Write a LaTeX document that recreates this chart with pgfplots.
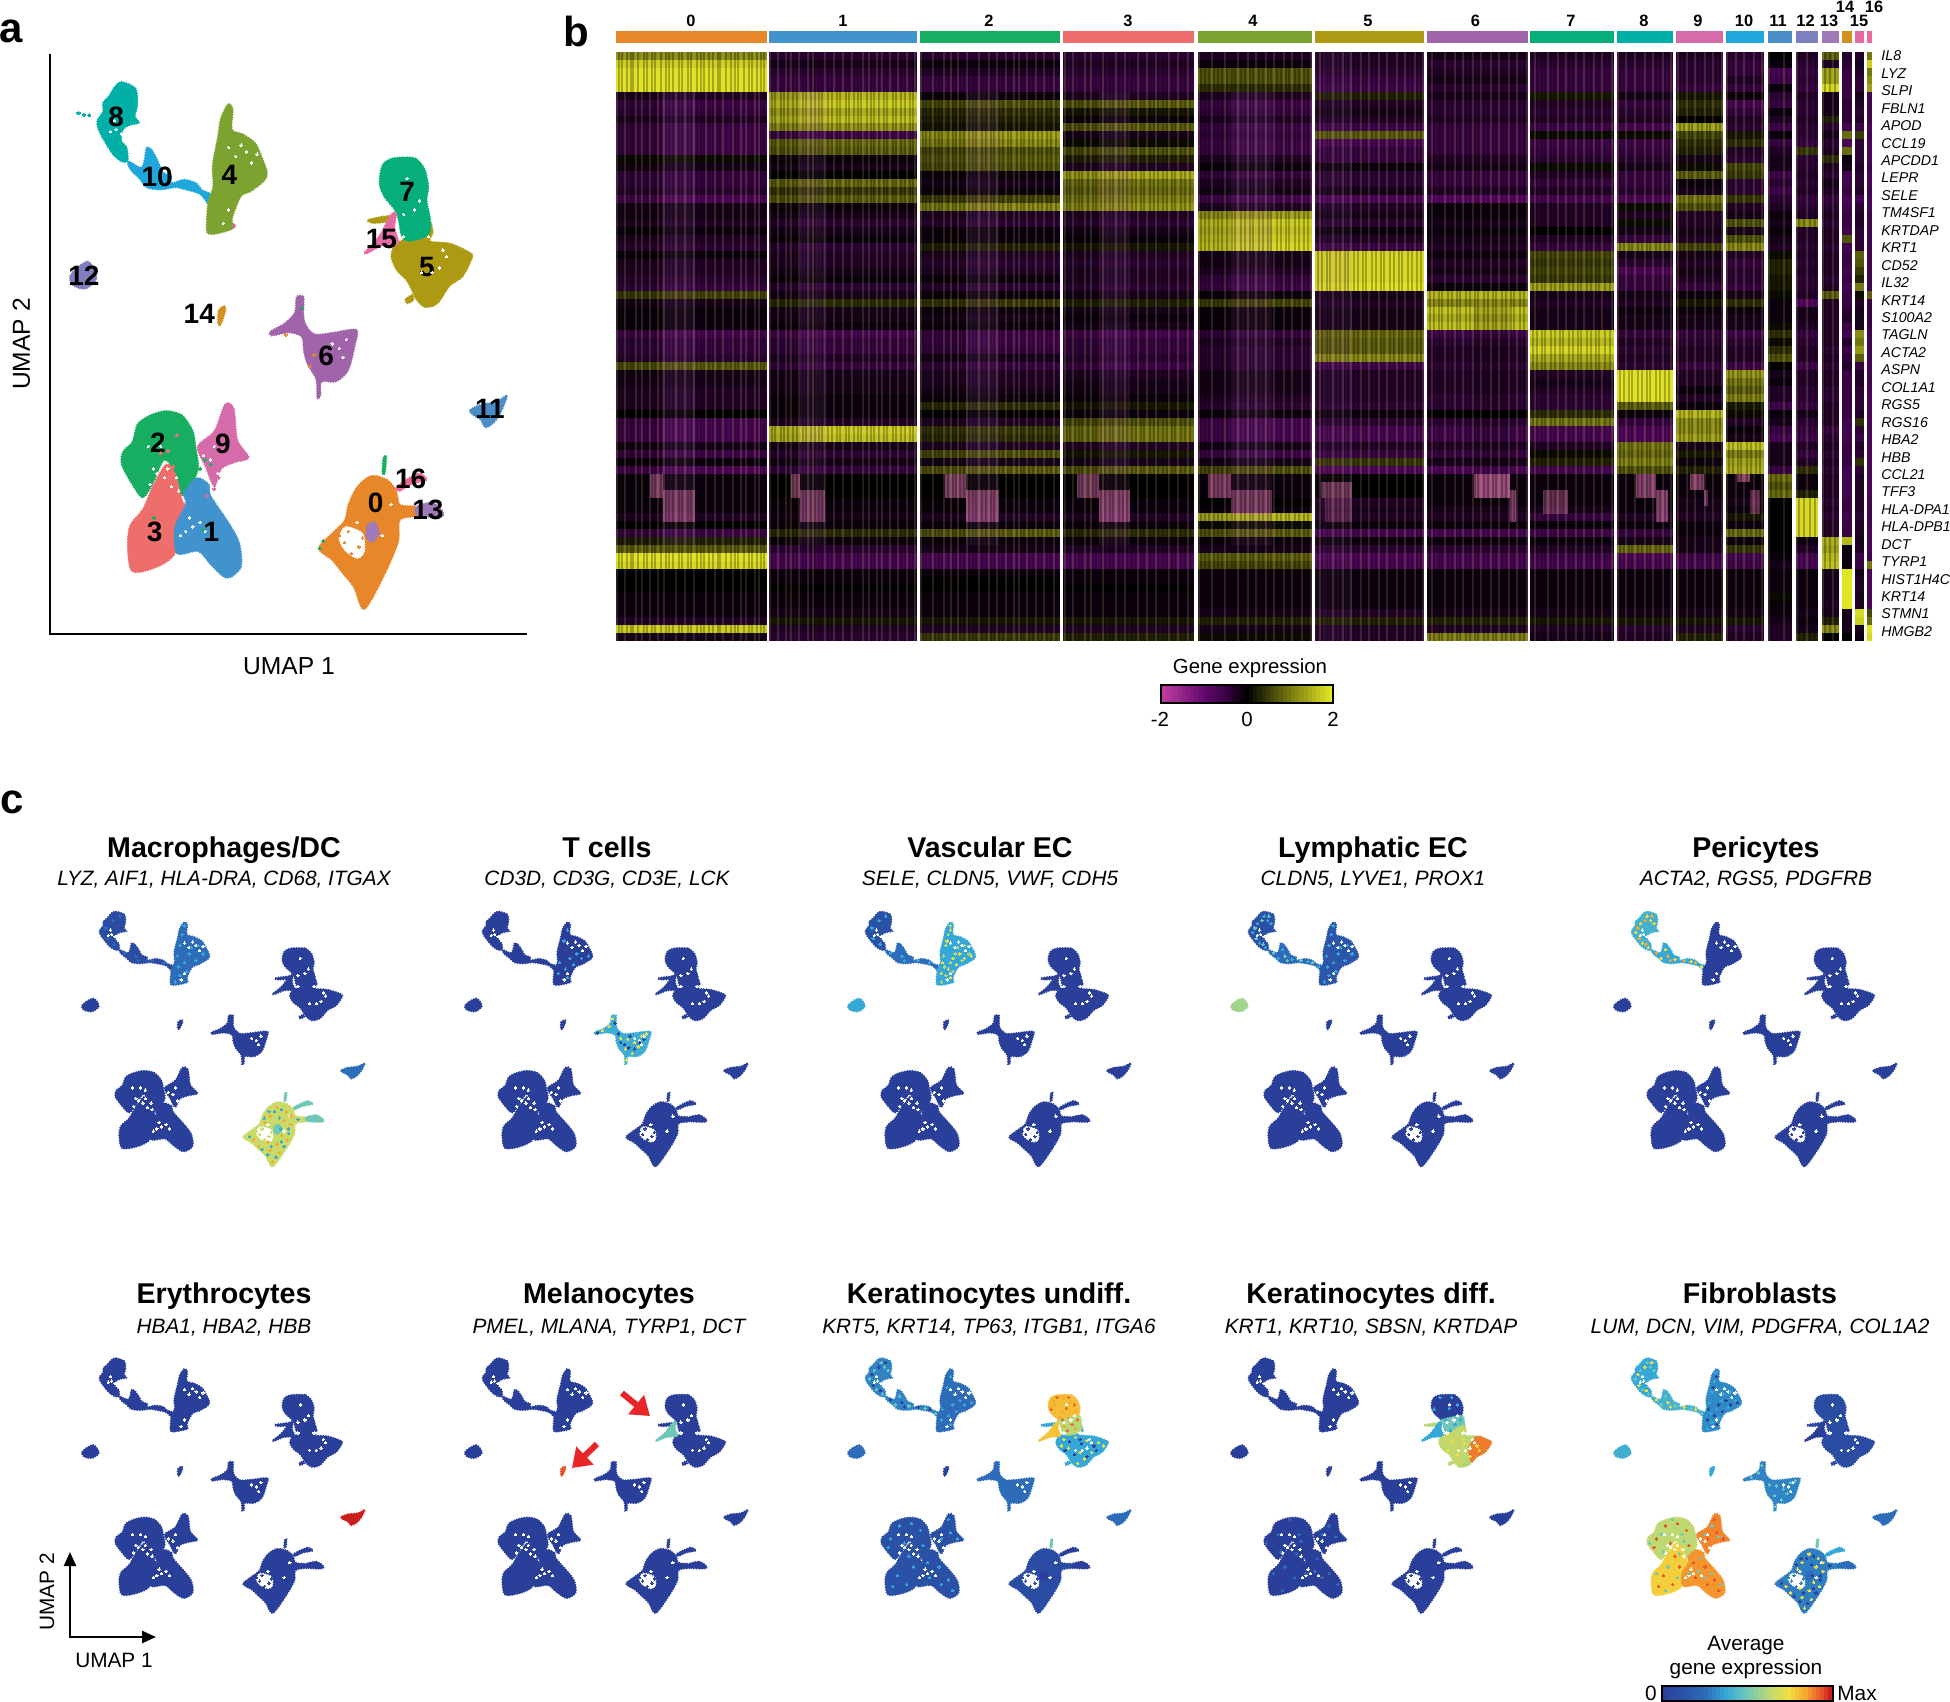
\documentclass[border=0pt]{standalone}
\usepackage{fontspec}
\setmainfont{Liberation Sans}
\usepackage{pgfplots}
\usepackage{pgfplotstable}
\pgfplotsset{compat=1.18}
\usetikzlibrary{arrows.meta}
\definecolor{nv}{HTML}{2A3F9A}
\definecolor{kO}{HTML}{E8862A}\definecolor{kA}{HTML}{4193CE}\definecolor{kB}{HTML}{17AE62}\definecolor{kC}{HTML}{EE6E6C}
\definecolor{kD}{HTML}{7CA32F}\definecolor{kE}{HTML}{AD9A12}\definecolor{kF}{HTML}{A163A9}\definecolor{kG}{HTML}{08AE7A}
\definecolor{kH}{HTML}{00AFA6}\definecolor{kI}{HTML}{D56BA9}\definecolor{kJ}{HTML}{1FA6DC}\definecolor{kK}{HTML}{4A8DC9}
\definecolor{kL}{HTML}{7F7FBF}\definecolor{kM}{HTML}{A07AB8}\definecolor{kN}{HTML}{D19020}\definecolor{kP}{HTML}{E56BA5}\definecolor{kQ}{HTML}{EE6A9D}
\definecolor{jB}{HTML}{2C6CB8}\definecolor{jC}{HTML}{35A8D8}\definecolor{jD}{HTML}{6FC7B8}\definecolor{jE}{HTML}{B8D878}
\definecolor{jF}{HTML}{F2E040}\definecolor{jG}{HTML}{F7A62E}\definecolor{jH}{HTML}{E8502A}\definecolor{jI}{HTML}{C9201F}
\pgfplotsset{
 colormap={hm}{rgb255(0cm)=(190,60,160); rgb255(10cm)=(98,8,108); rgb255(15cm)=(56,4,68); rgb255(20cm)=(0,0,0); rgb255(30cm)=(115,118,15); rgb255(40cm)=(226,229,36)},
 colormap={jt}{rgb255(0cm)=(42,63,154); rgb255(10cm)=(44,108,184); rgb255(15cm)=(53,168,216); rgb255(20cm)=(111,199,184); rgb255(25cm)=(184,216,120); rgb255(30cm)=(242,224,64); rgb255(34cm)=(247,166,46); rgb255(38cm)=(232,80,42); rgb255(40cm)=(201,32,31)},
 umapax/.style={hide axis, scale only axis, xmin=140, xmax=1475, ymin=120, ymax=1420, y dir=reverse, clip=false, anchor=north west},
 hmax/.style={hide axis, scale only axis, width=628.2pt, height=294.5pt, at={(307.8pt,-26pt)}, anchor=north west, xmin=615.6, xmax=1872, ymin=0, ymax=74, y dir=reverse, clip=false},
 cell/.style={scatter, only marks, mark=cell, scatter src=explicit, scatter/use mapped color={fill=mapped color, draw=none}},
}
\pgfdeclareplotmark{cell}{\pgfpathrectangle{\pgfpoint{-0.5pt}{-2.08pt}}{\pgfpoint{1pt}{4.16pt}}\pgfusepathqfill}
% ---------------- heatmap values (z-score x 10), one row per gene, one column per cluster
\pgfplotstableread{
c0 c1 c2 c3 c4 c5 c6 c7 c8 c9 c10 c11 c12 c13 c14 c15 c16
12 -4 -4 -4 -3 -3 -2 -3 -3 -3 -4 0 -3 8 -3 -3 10
18 -2 -1 -3 -1 -3 -4 -4 -4 -4 -5 -1 -4 -3 -4 -2 18
20 -4 -3 -4 7 -4 -3 -5 -5 -4 -5 -7 -5 14 -5 -3 10
20 -5 -5 -5 7 -5 -2 -5 -5 -4 -3 -6 -4 14 -5 -4 12
20 -5 -5 -5 4 -6 -4 -5 -5 -5 -5 -1 -5 19 -5 -4 14
-3 16 -1 -3 -3 3 -2 2 -2 2 -1 -4 -3 -2 -5 -2 -6
-6 18 7 8 -6 -3 -4 -3 -5 4 -7 -5 -4 -2 -4 -3 -6
-5 15 4 2 -5 -2 -4 -4 -4 3 -5 -1 -4 -2 -4 -4 -6
-3 17 3 -1 -3 -3 -3 -3 -3 0 -3 -3 -3 3 -4 -3 -6
-6 13 2 8 -6 -6 -5 -6 -7 14 -4 -6 -4 -4 -6 -5 -7
-6 -6 14 -2 -5 8 -5 1 1 6 2 -1 -4 -2 9 5 -6
-6 9 12 1 -6 -7 -5 -6 -6 4 4 -5 -5 -4 -7 -4 -7
-6 8 7 7 -6 -5 -5 -5 -5 3 -3 -3 5 -3 9 -4 -7
1 -1 8 3 -3 -5 -3 -4 -4 -2 -4 -2 -4 4 -1 -4 -7
-2 -2 7 -3 -1 -1 -2 1 -2 1 6 -2 -4 -3 -2 -3 -6
-5 0 -1 15 -5 -4 -5 -3 -5 8 5 -6 -3 -4 -6 -4 -7
-5 9 -2 10 -3 -4 -5 -5 -5 -1 -4 -4 -4 -2 -6 -4 -7
-4 5 -1 9 -2 -2 -3 -3 -4 -2 -4 -6 -3 -3 -5 -3 -6
-8 8 6 11 -7 -8 -9 -7 -8 10 5 -4 -5 -5 -7 -6 -7
-2 -1 12 13 -3 -3 -1 -3 1 7 -3 -3 -4 -4 -6 -4 -7
-2 -2 -3 -3 14 -2 -1 -3 -3 -3 -2 -1 -3 -3 -5 -3 -6
-3 -4 -4 -4 18 -4 -2 -3 1 -3 7 -2 12 -4 -5 -3 -6
-1 -2 -1 -2 17 -1 -1 0 -2 -2 -2 -1 -3 -3 -6 -4 -6
-3 -1 -1 -1 18 -3 -2 -3 -5 -3 7 -2 -3 -3 7 -4 -6
-4 -4 3 2 19 -6 -3 -5 12 6 12 -3 -4 -4 -6 -4 -6
-1 -3 -3 -3 -2 19 -1 6 -2 -2 -3 1 -3 -3 -5 8 -6
-3 -3 -4 -4 -2 19 -3 5 -4 -3 -5 3 -4 -3 -5 7 -6
-3 -2 -3 -3 -3 19 -2 6 -8 -2 -4 3 -3 -3 -6 5 -6
-4 -1 -1 -3 -5 19 -4 5 -5 -3 -4 2 -4 -4 -5 3 -6
-5 -4 -4 -4 -6 20 -1 14 -5 -5 -5 2 -4 -3 -6 10 -6
6 -2 -1 -2 -1 -2 16 -2 -2 -1 -2 1 -3 8 -5 1 8
-2 4 5 3 6 -3 12 -3 -3 2 4 -1 -8 -3 -5 -3 -5
-1 -2 -1 -2 -1 -2 17 -2 -1 -1 -1 -1 -2 -3 -4 -2 -5
-1 -2 -2 -1 -1 -2 15 -2 -2 -2 -2 -1 -2 -3 -3 -2 -5
-1 -1 -1 -2 -1 -2 17 -2 -2 -2 -2 1 -3 -3 -5 -2 -5
-7 -7 -6 -7 -5 9 -6 18 -5 -5 -6 4 -5 -3 -6 12 -6
-5 -5 -6 -5 -3 8 -4 16 -3 -4 -4 1 -4 -3 -3 10 -6
-5 -5 -5 -5 -4 8 -3 19 -4 -3 -3 4 -3 -4 -5 13 -6
-4 -3 -2 -4 -4 12 -3 15 -3 -3 -3 7 -3 -3 -4 8 -6
8 -5 -5 -6 -4 -6 -4 12 -4 -5 -6 0 -6 -4 -3 -5 -7
-2 -2 -3 -3 -2 -3 -3 -3 20 -3 13 -2 -3 -3 -5 -3 -6
-2 -2 -3 -2 -2 -3 -3 -2 20 -3 10 -1 -3 -3 -5 -3 -6
-3 -2 -2 -2 -2 -3 -3 -3 20 -1 8 -3 -4 -4 -5 -4 -7
-3 -1 -1 -1 -3 -3 -4 -4 20 -3 11 -3 -4 -4 -5 -4 -7
-3 -1 4 2 -4 -4 -4 -4 8 -1 2 -6 -5 -3 -5 -4 -7
0 -1 0 -1 -1 -1 0 4 -1 16 1 -1 -2 -3 -5 -3 -7
-7 -3 -3 7 -7 -4 -4 10 -5 12 -3 -2 -4 -3 -6 4 -7
-7 18 5 10 -7 -7 -6 -7 -8 12 -1 -5 -5 -5 -6 -4 -7
-7 17 4 10 -7 -7 -6 -7 -8 14 -2 -7 -6 -4 -6 -5 -7
-2 -2 -3 -3 -2 -3 -3 -3 10 -2 17 -2 -3 -3 -5 -3 -7
-6 -4 7 2 -6 -5 -5 1 9 2 11 -2 -5 -4 -5 -4 -7
-1 -2 -2 -2 -2 5 -2 3 11 -1 14 -2 -3 -3 -5 4 -7
-8 -5 8 8 7 -8 -8 -7 7 3 15 -5 4 -4 -6 -4 -7
-1 0 0 0 -1 0 -1 -1 -1 -1 -1 9 -1 -3 -6 -3 -7
-1 0 0 0 -1 0 -1 -1 -1 -1 -1 7 -1 -3 -6 -3 -7
-1 0 0 0 -1 0 -1 -1 -1 -1 -1 9 3 -3 -6 -3 -7
-1 -1 -1 -1 0 -3 -1 -1 -1 -2 -2 0 19 -4 -5 -3 -6
-1 -1 -1 -1 -1 -2 -2 -2 -1 -2 -1 0 19 -3 -5 -3 -6
-3 -2 -3 -3 16 -3 -3 -5 -3 -3 2 0 19 -4 -6 -4 -6
0 -1 -1 -1 1 -1 -1 -1 -1 -1 -1 0 19 -3 -5 -3 -7
-6 4 8 4 8 -7 -7 -6 -5 -1 9 0 19 -3 -5 -3 -7
3 -1 -1 -1 -1 -1 -1 -1 -2 -2 -1 0 -1 15 16 -2 -7
8 -4 -2 -3 -2 -4 -4 -3 9 -2 5 0 -3 14 -1 -3 -7
20 -7 -7 -7 8 -8 -7 -6 -8 -6 -7 -1 -7 16 -1 -5 -6
19 -7 -7 -7 6 -7 -7 -7 -7 -7 -6 -2 -7 17 -1 -5 10
0 -1 -1 -1 -1 -1 -1 -1 -1 -1 -1 -1 -1 -2 20 -2 -7
0 -1 0 -1 -1 -1 -1 -1 -1 -1 -1 -1 -1 -2 20 -3 -7
0 0 0 0 -1 -1 -1 -1 -1 -1 -1 -1 -1 -2 20 -3 -7
-1 -1 -1 -1 -1 -1 -1 -1 -1 -1 -1 1 -1 -2 20 -2 -7
-1 -1 -1 -1 -1 -1 -1 -1 -1 -1 -1 -1 -1 -3 20 -3 -7
-1 -2 -1 -1 -2 -3 -2 -2 -2 -2 -2 -1 -2 -2 -2 19 6
-3 2 2 2 3 3 3 2 2 2 2 -2 -1 3 -2 18 9
18 -3 -3 -3 -2 -3 -3 -3 -4 -3 -4 -3 -2 12 -2 -2 20
-2 -4 5 3 1 -3 11 -2 -3 3 -3 -3 3 0 0 -1 19
}\heat
% vertical cell stripes
\pgfplotstableread[row sep=\\]{x\\619\\622\\627\\631\\633\\638\\644\\647\\652\\655\\661\\666\\669\\673\\679\\682\\688\\691\\697\\701\\704\\709\\713\\718\\720\\726\\731\\735\\738\\744\\749\\752\\757\\761\\764\\772\\775\\781\\784\\788\\793\\797\\803\\806\\811\\815\\819\\822\\828\\832\\837\\840\\846\\849\\854\\858\\861\\867\\871\\874\\879\\884\\887\\893\\896\\901\\905\\910\\913\\923\\926\\930\\935\\939\\942\\948\\953\\956\\960\\964\\969\\973\\976\\982\\986\\991\\994\\999\\1003\\1008\\1011\\1017\\1021\\1024\\1029\\1033\\1038\\1042\\1047\\1051\\1056\\1067\\1070\\1075\\1079\\1082\\1088\\1093\\1096\\1101\\1105\\1110\\1113\\1119\\1123\\1127\\1132\\1136\\1141\\1144\\1150\\1154\\1158\\1163\\1167\\1172\\1175\\1181\\1185\\1190\\1201\\1205\\1209\\1214\\1218\\1222\\1227\\1232\\1235\\1241\\1245\\1250\\1253\\1259\\1263\\1268\\1271\\1277\\1281\\1286\\1289\\1295\\1299\\1304\\1308\\1318\\1322\\1327\\1330\\1336\\1340\\1345\\1348\\1354\\1358\\1363\\1366\\1372\\1376\\1381\\1384\\1390\\1394\\1399\\1402\\1408\\1412\\1417\\1421\\1430\\1434\\1439\\1442\\1448\\1452\\1457\\1460\\1466\\1470\\1475\\1478\\1484\\1488\\1493\\1496\\1502\\1506\\1511\\1514\\1520\\1524\\1533\\1537\\1542\\1545\\1551\\1555\\1560\\1563\\1569\\1573\\1578\\1581\\1587\\1591\\1596\\1599\\1605\\1610\\1620\\1624\\1629\\1632\\1638\\1642\\1647\\1650\\1656\\1660\\1665\\1669\\1680\\1684\\1689\\1692\\1698\\1702\\1707\\1710\\1716\\1720\\1729\\1733\\1738\\1741\\1747\\1751\\1756\\1760\\1771\\1776\\1781\\1787\\1799\\1804\\1810\\1815\\1825\\1830\\1835\\}\stripD
\pgfplotstableread[row sep=\\]{x\\617\\625\\636\\642\\650\\658\\664\\676\\685\\694\\706\\715\\723\\733\\741\\746\\755\\759\\770\\778\\786\\791\\799\\808\\813\\825\\834\\843\\852\\863\\869\\877\\882\\890\\898\\907\\915\\921\\933\\944\\951\\958\\967\\979\\989\\997\\1006\\1014\\1019\\1027\\1036\\1044\\1054\\1065\\1073\\1085\\1091\\1103\\1116\\1125\\1138\\1147\\1156\\1169\\1178\\1188\\1199\\1212\\1225\\1238\\1248\\1256\\1266\\1274\\1284\\1292\\1302\\1311\\1320\\1333\\1343\\1351\\1361\\1369\\1379\\1387\\1397\\1405\\1415\\1423\\1432\\1445\\1455\\1463\\1473\\1481\\1491\\1499\\1509\\1517\\1527\\1535\\1548\\1558\\1566\\1576\\1584\\1594\\1602\\1612\\1618\\1626\\1635\\1645\\1653\\1663\\1671\\1678\\1687\\1695\\1705\\1713\\1722\\1727\\1736\\1744\\1754\\1762\\1769\\1784\\1797\\1807\\1823\\1833\\}\stripL
% ---------------- UMAP outlines
\pgfplotstableread[row sep=\\]{x y\\1040 1065\\1085 1075\\1110 1100\\1120 1130\\1165 1135\\1170 1155\\1120 1165\\1115 1215\\1075 1290\\1020 1365\\990 1315\\960 1285\\930 1255\\892 1228\\935 1190\\965 1165\\975 1130\\1000 1090\\}\UMa
\pgfplotstableread[row sep=\\]{x y\\550 1070\\585 1085\\590 1110\\640 1170\\670 1215\\675 1270\\635 1295\\590 1265\\555 1235\\495 1240\\490 1180\\520 1130\\515 1105\\}\UMb
\pgfplotstableread[row sep=\\]{x y\\465 920\\510 930\\540 965\\548 1000\\555 1050\\530 1095\\510 1110\\490 1060\\460 1030\\430 1080\\400 1115\\370 1085\\340 1040\\345 1010\\370 990\\385 950\\420 930\\}\UMc
\pgfplotstableread[row sep=\\]{x y\\465 1040\\490 1060\\510 1120\\520 1135\\495 1180\\490 1240\\440 1270\\370 1280\\357 1220\\365 1175\\400 1140\\430 1085\\}\UMd
\pgfplotstableread[row sep=\\]{x y\\638 233\\652 245\\650 290\\680 300\\715 320\\730 345\\748 385\\740 405\\700 430\\675 440\\650 490\\655 510\\625 520\\590 525\\578 515\\582 455\\590 435\\597 415\\595 370\\610 305\\618 265\\}\UMe
\pgfplotstableread[row sep=\\]{x y\\1200 495\\1212 520\\1205 540\\1260 545\\1315 565\\1322 578\\1295 620\\1260 640\\1225 680\\1190 688\\1165 670\\1140 630\\1110 605\\1095 575\\1105 550\\1140 530\\}\UMf
\pgfplotstableread[row sep=\\]{x y\\830 665\\850 665\\850 700\\855 725\\880 748\\930 745\\998 738\\995 770\\975 830\\940 855\\900 855\\898 885\\888 892\\885 850\\860 815\\850 785\\845 755\\810 745\\760 752\\757 742\\795 725\\825 700\\}\UMg
\pgfplotstableread[row sep=\\]{x y\\1130 352\\1165 355\\1190 380\\1200 420\\1195 450\\1205 490\\1200 525\\1150 540\\1125 530\\1115 490\\1105 470\\1075 440\\1062 410\\1070 370\\1095 355\\}\UMh
\pgfplotstableread[row sep=\\]{x y\\340 183\\380 198\\385 235\\378 260\\390 275\\365 280\\345 290\\340 315\\355 330\\358 360\\340 362\\315 345\\295 320\\275 290\\272 270\\288 250\\288 230\\305 215\\320 195\\}\UMi
\pgfplotstableread[row sep=\\]{x y\\630 905\\655 915\\665 985\\697 1025\\660 1035\\620 1050\\600 1090\\575 1045\\553 1000\\600 965\\}\UMj
\pgfplotstableread[row sep=\\]{x y\\358 360\\395 375\\405 355\\410 330\\425 335\\445 365\\455 385\\480 395\\480 410\\515 402\\550 410\\565 425\\590 435\\585 458\\560 435\\520 425\\490 420\\450 425\\410 420\\390 400\\365 380\\}\UMk
\pgfplotstableread[row sep=\\]{x y\\1315 918\\1350 905\\1390 900\\1420 885\\1405 920\\1385 945\\1360 958\\1345 940\\1325 930\\}\UMl
\pgfplotstableread[row sep=\\]{x y\\195 620\\215 600\\245 585\\262 600\\270 625\\240 647\\205 640\\}\UMm
\pgfplotstableread[row sep=\\]{x y\\1165 1135\\1210 1125\\1240 1145\\1235 1158\\1170 1155\\}\UMn
\pgfplotstableread[row sep=\\]{x y\\610 725\\612 695\\628 685\\632 695\\618 728\\}\UMo
\pgfplotstableread[row sep=\\]{x y\\1020 565\\1060 530\\1095 480\\1110 478\\1105 510\\1115 545\\1070 550\\1030 567\\}\UMp
\pgfplotstableread[row sep=\\]{x y\\1110 1090\\1170 1060\\1195 1075\\1150 1085\\1120 1100\\}\UMq
\pgfplotstableread[row sep=\\]{x y\\1030 1175\\1050 1170\\1062 1195\\1040 1215\\1025 1200\\}\UMz
\pgfplotstableread[row sep=\\]{x y\\950 1205\\968 1180\\1015 1195\\1020 1235\\1000 1250\\965 1232\\}\UMy
\pgfplotstableread[row sep=\\]{x y\\1135 670\\1155 660\\1158 672\\1140 680\\}\UMx
\pgfplotstableread[row sep=\\]{x y\\1030 492\\1090 483\\1095 495\\1045 500\\}\UMw
\pgfplotstableread[row sep=\\]{x y\\1073 1025\\1082 1022\\1078 1060\\1070 1060\\}\UMv
\pgfplotstableread[row sep=\\]{x y\\1260 545\\1315 565\\1322 578\\1295 620\\1260 640\\1235 665\\1225 600\\}\PFr
\pgfplotstableread[row sep=\\]{x y\\1105 470\\1195 450\\1205 490\\1200 525\\1150 540\\1125 530\\1115 490\\}\PGl
\pgfplotstableread[row sep=\\]{x y\\1140 530\\1200 495\\1212 520\\1205 540\\1200 600\\1190 688\\1165 670\\1140 630\\1110 605\\1095 575\\1105 550\\}\PFl
% ---------------- loose points and specks
\pgfplotstableread[row sep=\\]{x y\\950 1200\\975 1190\\1005 1225\\985 1240\\1015 1205\\965 1215\\}\SH
\pgfplotstableread[row sep=\\]{x y\\690 340\\705 365\\660 350\\720 345\\675 325\\640 330\\1140 400\\1160 470\\1130 480\\1175 450\\1250 575\\1230 600\\1210 610\\1240 560\\1180 610\\325 290\\310 295\\340 300\\320 270\\950 780\\960 800\\930 770\\970 760\\470 1050\\460 1070\\480 1090\\440 1060\\500 1100\\430 1050\\420 1085\\495 1070\\540 1180\\520 1190\\560 1170\\530 1160\\505 1200\\575 1190\\470 1010\\450 1000\\415 1000\\600 1000\\590 1030\\570 1020\\610 1060\\1000 1170\\1070 1200\\1010 1240\\1095 1130\\640 470\\625 500\\1200 530\\1130 530\\}\SW
\pgfplotstableread[row sep=\\]{x y\\1040 1090\\1080 1110\\1010 1130\\990 1160\\1070 1150\\1100 1170\\1060 1220\\1085 1240\\1040 1260\\1010 1290\\1050 1300\\1020 1340\\1000 1250\\960 1270\\940 1240\\1100 1130\\}\SOa
\pgfplotstableread[row sep=\\]{x y\\1030 1110\\1060 1100\\1005 1110\\985 1140\\1050 1140\\1090 1190\\1070 1270\\1035 1320\\1000 1310\\975 1285\\920 1225\\1090 1210\\1055 1190\\1015 1270\\1130 1145\\1060 1250\\}\SOb
\pgfplotstableread[row sep=\\]{x y\\835 680\\820 715\\790 735\\870 770\\900 775\\930 790\\960 760\\980 750\\890 820\\920 840\\945 810\\895 870\\}\SGa
\pgfplotstableread[row sep=\\]{x y\\845 700\\770 745\\860 750\\885 800\\910 760\\950 790\\970 775\\905 815\\930 820\\870 790\\}\SGb
\pgfplotstableread[row sep=\\]{x y\\638 250\\630 290\\620 340\\610 390\\640 420\\670 350\\700 340\\720 380\\690 410\\650 460\\620 480\\600 510\\615 440\\660 380\\}\SDa
\pgfplotstableread[row sep=\\]{x y\\640 270\\625 320\\605 420\\650 400\\680 380\\700 400\\730 390\\640 490\\600 470\\630 450\\665 430\\}\SDb
\pgfplotstableread[row sep=\\]{x y\\340 205\\370 240\\310 240\\290 280\\320 330\\345 350\\420 360\\400 400\\460 405\\530 415\\575 440\\355 225\\}\SIa
\pgfplotstableread[row sep=\\]{x y\\360 205\\330 225\\300 260\\305 310\\335 335\\380 375\\430 390\\440 410\\500 410\\550 420\\}\SIb
\pgfplotstableread[row sep=\\]{x y\\1130 370\\1090 400\\1160 390\\1120 430\\1180 430\\1150 460\\1130 500\\1180 510\\1085 380\\1110 460\\}\SHa
\pgfplotstableread[row sep=\\]{x y\\1100 365\\1150 365\\1075 420\\1140 415\\1175 400\\1125 470\\1165 490\\1145 520\\1190 470\\}\SHb
\pgfplotstableread[row sep=\\]{x y\\1130 560\\1180 550\\1230 565\\1280 575\\1300 590\\1150 600\\1200 620\\1250 620\\1190 670\\1220 650\\1120 590\\}\SFa
\pgfplotstableread[row sep=\\]{x y\\1155 570\\1205 580\\1260 590\\1175 630\\1230 640\\1270 610\\1200 560\\1135 610\\}\SFb
\pgfplotstableread[row sep=\\]{x y\\420 960\\470 950\\510 980\\380 1020\\440 1040\\370 1060\\520 1050\\630 930\\640 990\\600 1020\\670 1020\\460 1100\\410 1190\\390 1240\\450 1230\\480 1150\\540 1130\\590 1150\\630 1210\\650 1260\\550 1200\\600 1230\\}\SBa
\pgfplotstableread[row sep=\\]{x y\\450 930\\490 1000\\400 1000\\350 1040\\500 1030\\410 1080\\620 960\\590 1000\\650 1010\\480 1090\\380 1180\\430 1150\\470 1200\\420 1260\\520 1180\\570 1110\\620 1180\\660 1230\\590 1200\\560 1170\\}\SBb
\pgfplotstableread[row sep=\\]{x\\-20\\-19\\-18\\-17\\-16\\-15\\-14\\-13\\-12\\-11\\-10\\-9\\-8\\-7\\-6\\-5\\-4\\-3\\-2\\-1\\0\\1\\2\\3\\4\\5\\6\\7\\8\\9\\10\\11\\12\\13\\14\\15\\16\\17\\18\\19\\20\\}\barH
\pgfplotstableread[row sep=\\]{x\\0\\1\\2\\3\\4\\5\\6\\7\\8\\9\\10\\11\\12\\13\\14\\15\\16\\17\\18\\19\\20\\21\\22\\23\\24\\25\\26\\27\\28\\29\\30\\31\\32\\33\\34\\35\\36\\37\\38\\39\\40\\}\barJ
% ---------------- helpers
\newcommand\blob[2]{\addplot[fill=#1, draw=#1, line width=.9pt, dash pattern=on 0pt off 1.3pt, line cap=round, no markers, smooth cycle, tension=.5] table {#2};}
\newcommand\spk[2]{\addplot[only marks, mark=*, mark size=.6pt, color=#1, line width=0pt] table {#2};}
\newcommand\ures{\colorlet{ua}{nv}\colorlet{ub}{nv}\colorlet{uc}{nv}\colorlet{ud}{nv}\colorlet{ue}{nv}\colorlet{uf}{nv}\colorlet{ug}{nv}\colorlet{uh}{nv}\colorlet{ui}{nv}\colorlet{uj}{nv}\colorlet{uk}{nv}\colorlet{ul}{nv}\colorlet{um}{nv}\colorlet{un}{nv}\colorlet{uo}{nv}\colorlet{up}{nv}\colorlet{uq}{nv}\colorlet{uv}{nv}}
\newcommand\ubase{%
 \blob{ui}{\UMi}\blob{uk}{\UMk}\blob{ue}{\UMe}\blob{uf}{\UMf}\blob{uf}{\UMx}\blob{uf}{\UMw}\blob{uh}{\UMh}\blob{up}{\UMp}
 \blob{um}{\UMm}\blob{uo}{\UMo}\blob{ug}{\UMg}\blob{ul}{\UMl}\blob{uc}{\UMc}\blob{uj}{\UMj}\blob{ud}{\UMd}\blob{ub}{\UMb}
 \blob{ua}{\UMa}\blob{un}{\UMn}\blob{uq}{\UMq}\blob{uv}{\UMv}
 \blob{white}{\UMy}
 \blob{un}{\UMz}
 \spk{ua}{\SH}
 \spk{white}{\SW}}
\newcommand\upanel[4]{\ures #3
 \begin{axis}[umapax, width=154.4pt, height=140.5pt, at={(#1*0.5pt,-#2*0.5pt)}]
 \ubase
 #4
 \end{axis}}
\newcommand\hc[3]{\addplot[cell, mark options={xscale=#3}] table[x expr=#2, y expr=\coordindex+0.5, meta=c#1]{\heat};}
\newcommand\ov[6]{\addplot[fill=#5, fill opacity=#6, draw=none, no markers] coordinates {(#1,#3)(#2,#3)(#2,#4)(#1,#4)} --cycle;}
\newcommand\cb[3]{\addplot[fill=#3, draw=none, no markers] coordinates {(#1,-2.64)(#2,-2.64)(#2,-1.13)(#1,-1.13)} --cycle;}
\newcommand\ttl[5]{\node[anchor=base, font=\fontsize{14.3}{16}\selectfont\bfseries] at (#1,#2+10) {#4};\node[anchor=base, font=\fontsize{10.4}{12}\selectfont\itshape] at (#1,#3+8) {#5};}
\newcommand\lb[3]{\node[font=\fontsize{14}{16}\selectfont\bfseries] at (#1,#2) {#3};}
\begin{document}
\begin{tikzpicture}
\path[use as bounding box] (0,0) rectangle (975pt,-851pt);
% ---- panel a
\colorlet{ua}{kO}\colorlet{ub}{kA}\colorlet{uc}{kB}\colorlet{ud}{kC}\colorlet{ue}{kD}\colorlet{uf}{kE}\colorlet{ug}{kF}\colorlet{uh}{kG}\colorlet{ui}{kH}\colorlet{uj}{kI}\colorlet{uk}{kJ}\colorlet{ul}{kK}\colorlet{um}{kL}\colorlet{un}{kM}\colorlet{uo}{kN}\colorlet{up}{kP}\colorlet{uq}{kQ}\colorlet{uv}{kB}
\begin{axis}[umapax, width=238.4pt, height=290.2pt, at={(25pt,-26.8pt)}]
\ubase
\addplot[only marks, mark=*, mark size=.8pt, color=kH, line width=0pt] coordinates {(220,253)(235,257)(250,258)};
\addplot[only marks, mark=*, mark size=.8pt, color=kB, line width=0pt] coordinates {(575,1030)(590,1040)(560,1050)(540,1060)(510,1080)(430,1160)(568,1185)(905,1212)(895,1228)(845,690)};
\addplot[only marks, mark=*, mark size=.8pt, color=kC, line width=0pt] coordinates {(470,1010)(495,975)(450,1015)(485,1045)};
\addplot[only marks, mark=*, mark size=.8pt, color=kI, line width=0pt] coordinates {(600,1095)(612,1070)(580,1110)(655,505)};
\addplot[only marks, mark=*, mark size=.8pt, color=kO, line width=0pt] coordinates {(880,795)(868,820)(800,750)};
\addplot[black, line width=1.1pt, no markers, line cap=butt] coordinates {(140,120)(140,1420)(1475,1420)};
\lb{325}{262}{8}\lb{440}{395}{10}\lb{642}{392}{4}\lb{1140}{430}{7}\lb{1068}{535}{15}\lb{1195}{597}{5}
\lb{235}{618}{12}\lb{558}{703}{14}\lb{913}{797}{6}\lb{1372}{915}{11}\lb{442}{992}{2}\lb{624}{994}{9}
\lb{1150}{1072}{16}\lb{1052}{1127}{0}\lb{1198}{1143}{13}\lb{433}{1192}{3}\lb{592}{1192}{1}
\end{axis}
% ---- panel b: cells
\begin{axis}[hmax, colormap name=hm, point meta min=-20, point meta max=20]
\hc{0}{691.05}{75.45}\hc{1}{843}{74}\hc{2}{990}{70}\hc{3}{1128.5}{65.5}\hc{4}{1254.8}{57.2}\hc{5}{1369.7}{54.7}\hc{6}{1477.3}{50.3}\hc{7}{1572}{42}
\hc{8}{1645.15}{28.15}\hc{9}{1699.65}{23.35}\hc{10}{1745.1}{19.3}\hc{11}{1780}{12}\hc{12}{1806.8}{11.2}\hc{13}{1830.3}{8.7}\hc{14}{1847}{5}\hc{15}{1859.5}{4.5}\hc{16}{1869.5}{2.5}
\end{axis}
% ---- panel b: blocks and stripes over the cells
\begin{axis}[hmax]
\ov{616}{662}{5}{62}{black}{.2}\ov{662}{695}{5}{62}{kF}{.14}
\ov{769}{800}{5}{62}{black}{.16}\ov{800}{825}{5}{62}{kF}{.14}
\ov{920}{966}{5}{62}{black}{.16}\ov{966}{999}{5}{62}{kF}{.14}
\ov{1063}{1099}{5}{62}{black}{.16}\ov{1099}{1130}{5}{62}{kF}{.14}
\ov{1198}{1231}{5}{62}{black}{.16}\ov{1231}{1272}{5}{62}{kF}{.14}
\ov{1315}{1352}{0}{74}{kF}{.1}\ov{1474}{1510}{32}{53}{black}{.15}
\ov{650}{663}{53}{56}{kI}{.55}\ov{663}{695}{55}{59}{kI}{.5}
\ov{791}{800}{53}{56}{kI}{.55}\ov{800}{825}{55}{59}{kI}{.5}
\ov{945}{966}{53}{56}{kI}{.6}\ov{966}{999}{55}{59}{kI}{.55}
\ov{1077}{1099}{53}{56}{kI}{.55}\ov{1099}{1130}{55}{59}{kI}{.55}
\ov{1208}{1231}{53}{56}{kI}{.55}\ov{1231}{1272}{55}{58}{kI}{.5}
\ov{1321}{1352}{54}{56}{kI}{.5}\ov{1325}{1352}{56}{59}{kI}{.3}
\ov{1474}{1510}{53}{56}{kI}{.7}\ov{1510}{1516}{55}{59}{kI}{.6}
\ov{1543}{1568}{55}{58}{kI}{.45}
\ov{1636}{1656}{53}{56}{kI}{.6}\ov{1656}{1668}{55}{59}{kI}{.6}
\ov{1690}{1704}{53}{55}{kI}{.6}\ov{1704}{1708}{55}{57}{kI}{.5}
\ov{1737}{1750}{53}{54}{kI}{.6}\ov{1750}{1760}{55}{58}{kI}{.45}
\addplot[ycomb, no markers, black, opacity=.26, line width=.55pt] table[x=x, y=x, y expr=74]{\stripD};
\addplot[ycomb, no markers, color={rgb,255:red,225;green,190;blue,120}, opacity=.17, line width=.55pt] table[x=x, y=x, y expr=74]{\stripL};
\cb{615.6}{766.5}{kO}\cb{769}{917}{kA}\cb{920}{1060}{kB}\cb{1063}{1194}{kC}\cb{1197.6}{1312}{kD}\cb{1315}{1424.4}{kE}\cb{1427}{1527.6}{kF}\cb{1530}{1614}{kG}
\cb{1617}{1673.3}{kH}\cb{1676.3}{1723}{kI}\cb{1725.8}{1764.4}{kJ}\cb{1768}{1792}{kK}\cb{1795.6}{1818}{kL}\cb{1821.6}{1839}{kM}\cb{1842}{1852}{kN}\cb{1855}{1864}{kP}\cb{1867}{1872}{kQ}
\end{axis}
% ---- colour bar of panel b
\begin{axis}[hide axis, scale only axis, width=86pt, height=9pt, at={(580.5pt,-342.5pt)}, anchor=north west,
  xmin=-20.5, xmax=20.5, ymin=0, ymax=1, clip=false, colormap name=hm, point meta min=-20, point meta max=20]
\addplot[cell, mark options={xscale=2.2, yscale=2.2}] table[x=x, y=x, y expr=.5, meta=x]{\barH};
\end{axis}
% ---- panel c, row 1
\upanel{68.9}{897.7}{\colorlet{ua}{jE!70!jF}\colorlet{ue}{jB}\colorlet{ui}{nv!70!jB}\colorlet{uk}{nv!70!jB}\colorlet{un}{jD}\colorlet{uq}{jD}\colorlet{uv}{jD}\colorlet{ul}{jB}}
 {\spk{jG}{\SOa}\spk{jC}{\SOb}\spk{jC}{\SDa}\spk{jB}{\SIb}}
\upanel{451.9}{897.7}{\colorlet{ug}{jC!85!jD}}{\spk{jF}{\SGa}\spk{nv}{\SGb}\spk{jC}{\SDb}}
\upanel{834.9}{897.7}{\colorlet{ue}{jC}\colorlet{um}{jC}\colorlet{ui}{nv!60!jB}\colorlet{uk}{jB}}{\spk{jE}{\SDa}\spk{jF}{\SDb}\spk{jC}{\SIb}}
\upanel{1217.9}{897.7}{\colorlet{um}{jE!70!jD}\colorlet{uk}{jB}\colorlet{ue}{nv!50!jB}\colorlet{ui}{nv!60!jB}}{\spk{jC}{\SDa}\spk{jC}{\SIa}\spk{jD}{\SIb}}
\upanel{1600.9}{897.7}{\colorlet{ui}{jC!70!jD}\colorlet{uk}{jC}}{\spk{jF}{\SIa}\spk{jG}{\SIb}}
% ---- panel c, row 2
\upanel{68.9}{1344.3}{\colorlet{ul}{jI}}{}
\upanel{451.9}{1344.3}{\colorlet{uo}{jH}\colorlet{up}{jD}}{}
\upanel{834.9}{1344.3}{\colorlet{uh}{jG!60!jF}\colorlet{up}{jG!50!jF}\colorlet{uf}{jC}\colorlet{ue}{jB}\colorlet{ui}{jB!60!jC}\colorlet{uk}{jB!60!jC}\colorlet{uc}{nv!60!jB}\colorlet{ud}{nv!60!jB}\colorlet{ub}{nv!60!jB}\colorlet{uj}{nv!60!jB}\colorlet{ug}{jB}\colorlet{um}{jB}\colorlet{ul}{jB}\colorlet{ua}{nv!70!jB}\colorlet{uv}{jD}}
 {\blob{jE}{\PGl}\spk{jG}{\SHa}\spk{jH!70!jG}{\SHb}\spk{jF}{\SFa}\spk{nv}{\SFb}\spk{jC}{\SBa}\spk{jC}{\SDb}\spk{jD}{\SIa}\spk{nv}{\SIb}}
\upanel{1217.9}{1344.3}{\colorlet{uf}{jE}\colorlet{up}{jC}\colorlet{uc}{nv}\colorlet{ub}{nv}\colorlet{ud}{nv}}
 {\blob{jD}{\PGl}\blob{jD!35!jF}{\PFl}\blob{jG!50!jH}{\PFr}\spk{jF}{\SFb}\spk{jB}{\SBb}\spk{jC}{\SHb}}
\upanel{1600.9}{1344.3}{\colorlet{uc}{jE!90!jF}\colorlet{uj}{jG!60!jH}\colorlet{ud}{jF!70!jG}\colorlet{ub}{jG!80!jH}\colorlet{ua}{jB!70!jC}\colorlet{ui}{jC}\colorlet{uk}{jC!70!jD}\colorlet{ue}{jB!50!jC}\colorlet{um}{jC!80!jD}\colorlet{ug}{jB!60!jC}\colorlet{uo}{jC}\colorlet{un}{jB}\colorlet{uq}{jC}\colorlet{ul}{jB}\colorlet{uf}{nv!70!jB}\colorlet{uh}{nv!70!jB}\colorlet{uv}{jD}}
 {\spk{jD}{\SBb}\spk{jH}{\SBa}\spk{jF}{\SOa}\spk{nv}{\SOb}\spk{jD}{\SIa}\spk{jF}{\SIb}\spk{nv}{\SDb}\spk{jC}{\SDa}\spk{jD}{\SGa}}
% ---- colour bar of panel c
\begin{axis}[hide axis, scale only axis, width=85.3pt, height=7.5pt, at={(831pt,-843pt)}, anchor=north west,
  xmin=-.5, xmax=40.5, ymin=0, ymax=1, clip=false, colormap name=jt, point meta min=0, point meta max=40]
\addplot[cell, mark options={xscale=2.2, yscale=1.9}] table[x=x, y=x, y expr=.5, meta=x]{\barJ};
\end{axis}
% ---- text, in reference pixels
\begin{scope}[x=0.5pt, y=-0.5pt]
\draw[black, line width=1.1pt] (1161,685) rectangle (1333,703);
\draw[black, line width=1.1pt] (1662,1686) rectangle (1832.6,1701);
\node[font=\fontsize{21}{24}\selectfont\bfseries] at (11,31) {a};
\node[font=\fontsize{21}{24}\selectfont\bfseries] at (576,31) {b};
\node[font=\fontsize{21}{24}\selectfont\bfseries] at (12,802) {c};
\node[font=\fontsize{12.3}{14}\selectfont] at (289,666) {UMAP 1};
\node[font=\fontsize{12.3}{14}\selectfont, rotate=90] at (21.4,344) {UMAP 2};
\foreach \x/\y/\t in {691/21/0,843/21/1,989/21/2,1128/21/3,1253/21/4,1368/21/5,1475.5/21/6,1571/21/7,1644/21/8,1698/21/9,1744/21/10,1778/21/11,1805.6/21/12,1829/21/13,1845/7/14,1859/21/15,1874/7/16}
 {\node[font=\fontsize{8.2}{9}\selectfont\bfseries] at (\x,\y) {\t};}
\foreach \i/\g in {0/IL8,1/LYZ,2/SLPI,3/FBLN1,4/APOD,5/CCL19,6/APCDD1,7/LEPR,8/SELE,9/TM4SF1,10/KRTDAP,11/KRT1,12/CD52,13/IL32,14/KRT14,15/S100A2,16/TAGLN,17/ACTA2,18/ASPN,19/COL1A1,20/RGS5,21/RGS16,22/HBA2,23/HBB,24/CCL21,25/TFF3,26/HLA-DPA1,27/HLA-DPB1,28/DCT,29/TYRP1,30/HIST1H4C,31/KRT14,32/STMN1,33/HMGB2}
 {\pgfmathsetmacro\yy{56+17.44*\i}\node[anchor=west, font=\fontsize{7.1}{8}\selectfont\itshape, inner sep=0pt] at (1881,\yy) {\g};}
\node[font=\fontsize{10.2}{12}\selectfont] at (1250,668) {Gene expression};
\node[font=\fontsize{10.2}{12}\selectfont] at (1160,719) {-2};
\node[font=\fontsize{10.2}{12}\selectfont] at (1247,719) {0};
\node[font=\fontsize{10.2}{12}\selectfont] at (1333,719) {2};
\ttl{224}{847}{877}{Macrophages/DC}{LYZ, AIF1, HLA-DRA, CD68, ITGAX}
\ttl{607}{847}{877}{T cells}{CD3D, CD3G, CD3E, LCK}
\ttl{990}{847}{877}{Vascular EC}{SELE, CLDN5, VWF, CDH5}
\ttl{1373}{847}{877}{Lymphatic EC}{CLDN5, LYVE1, PROX1}
\ttl{1756}{847}{877}{Pericytes}{ACTA2, RGS5, PDGFRB}
\ttl{224}{1293}{1325}{Erythrocytes}{HBA1, HBA2, HBB}
\ttl{609}{1293}{1325}{Melanocytes}{PMEL, MLANA, TYRP1, DCT}
\ttl{989}{1293}{1325}{Keratinocytes undiff.}{KRT5, KRT14, TP63, ITGB1, ITGA6}
\ttl{1371}{1293}{1325}{Keratinocytes diff.}{KRT1, KRT10, SBSN, KRTDAP}
\ttl{1760}{1293}{1325}{Fibroblasts}{LUM, DCN, VIM, PDGFRA, COL1A2}
\node[font=\fontsize{10.4}{12}\selectfont] at (1746,1645) {Average};
\node[font=\fontsize{10.4}{12}\selectfont] at (1746,1669) {gene expression};
\node[font=\fontsize{10.4}{12}\selectfont] at (1651,1693) {0};
\node[font=\fontsize{10.4}{12}\selectfont] at (1857,1693) {Max};
\node[font=\fontsize{10.4}{12}\selectfont] at (114,1660) {UMAP 1};
\node[font=\fontsize{10.4}{12}\selectfont, rotate=90] at (47,1592) {UMAP 2};
\draw[line width=1.2pt, {Triangle[length=7pt,width=6pt]}-{Triangle[length=7pt,width=6pt]}] (70,1552) -- (70,1637) -- (156,1637);
\draw[line width=3pt, color={rgb,255:red,232;green,38;blue,42}, -{Triangle[length=9pt,width=12pt]}] (622,1393) -- (650,1416);
\draw[line width=3pt, color={rgb,255:red,232;green,38;blue,42}, -{Triangle[length=9pt,width=12pt]}] (597,1444) -- (572,1468);
\end{scope}
\end{tikzpicture}
\end{document}
